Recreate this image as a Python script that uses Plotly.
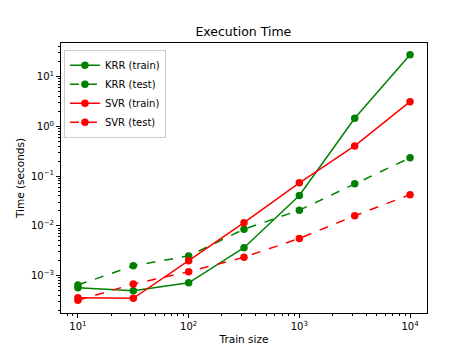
import plotly.graph_objects as go

train_sizes = [10, 31.62, 100, 316.2, 1000, 3162, 10000]
krr_train = [5.7e-4, 5.0e-4, 7.2e-4, 3.65e-3, 0.041, 1.46, 27.4]
krr_test = [6.5e-4, 1.58e-3, 2.5e-3, 8.6e-3, 0.0207, 0.070, 0.234]
svr_train = [3.6e-4, 3.5e-4, 2.0e-3, 0.0116, 0.0736, 0.405, 3.14]
svr_test = [3.2e-4, 6.8e-4, 1.2e-3, 2.35e-3, 5.6e-3, 0.016, 0.0425]

series = [
    ("KRR (train)", krr_train, "green", "solid"),
    ("KRR (test)", krr_test, "green", "dash"),
    ("SVR (train)", svr_train, "red", "solid"),
    ("SVR (test)", svr_test, "red", "dash"),
]

x_ticks = [10, 100, 1000, 10000]
x_ticktext = ["10<sup>1</sup>", "10<sup>2</sup>", "10<sup>3</sup>", "10<sup>4</sup>"]
y_ticks = [1e-3, 1e-2, 1e-1, 1, 10]
y_ticktext = ["10<sup>−3</sup>", "10<sup>−2</sup>", "10<sup>−1</sup>", "10<sup>0</sup>", "10<sup>1</sup>"]

def minor_vals(lo, hi):
    out = []
    for k in range(lo, hi + 1):
        for m in range(2, 10):
            out.append(m * 10 ** k)
    return out

fig = go.Figure()
for name, vals, color, dash in series:
    fig.add_trace(go.Scatter(
        x=train_sizes, y=vals, name=name, mode="lines+markers",
        line=dict(color=color, width=1.5, dash=dash),
        marker=dict(color=color, size=7.5),
    ))

font = "DejaVu Sans, sans-serif"
axis_common = dict(
    type="log", showgrid=False, zeroline=False,
    showline=True, linecolor="black", linewidth=1, mirror=True,
    ticks="outside", ticklen=4, tickcolor="black",
    tickfont=dict(family=font, size=10, color="black"),
)
fig.update_xaxes(
    **axis_common, range=[0.847, 4.153],
    tickmode="array", tickvals=x_ticks, ticktext=x_ticktext,
    minor=dict(tickmode="array", tickvals=minor_vals(0, 4), ticks="outside", ticklen=2, tickcolor="black"),
    title=dict(text="Train size", font=dict(family=font, size=10.5, color="black"), standoff=4),
)
fig.update_yaxes(
    **axis_common, range=[-3.75, 1.676],
    tickmode="array", tickvals=y_ticks, ticktext=y_ticktext,
    minor=dict(tickmode="array", tickvals=minor_vals(-4, 1), ticks="outside", ticklen=2, tickcolor="black"),
    title=dict(text="Time (seconds)", font=dict(family=font, size=10.5, color="black"), standoff=4),
)
# page body adds an 8px offset; size the figure so it fits the 474x355 window
fig.update_layout(
    width=466, height=347,
    margin=dict(l=52, r=47, t=35, b=39),
    paper_bgcolor="white", plot_bgcolor="white",
    title=dict(text="Execution Time", x=0.505, xanchor="center", y=1 - 24 / 347, yanchor="middle",
               font=dict(family=font, size=12.5, color="black")),
    legend=dict(x=0.008, y=0.975, xanchor="left", yanchor="top",
                bgcolor="white", bordercolor="#cccccc", borderwidth=1,
                font=dict(family=font, size=10, color="black"),
                itemwidth=30, tracegroupgap=0),
    showlegend=True,
)
fig.write_html("out.html")
